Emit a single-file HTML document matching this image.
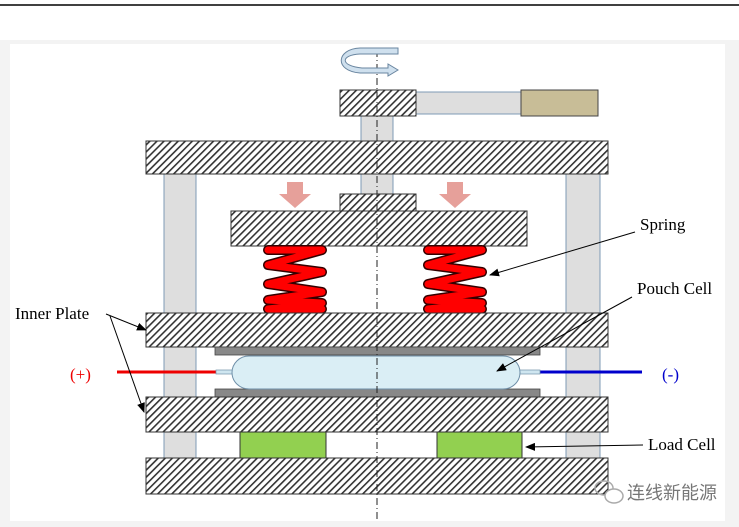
<!DOCTYPE html>
<html><head><meta charset="utf-8"><style>
html,body{margin:0;padding:0;background:#f0f0f0;}
svg{display:block;}
text{font-family:"Liberation Serif",serif;}
</style></head><body>
<svg width="739" height="527" viewBox="0 0 739 527" xmlns="http://www.w3.org/2000/svg">
<defs>
<pattern id="h" width="5" height="5" patternUnits="userSpaceOnUse" patternTransform="rotate(45)">
<rect width="5" height="5" fill="#fff"/><rect width="1.6" height="5" fill="#333"/>
</pattern>
<marker id="a" markerWidth="10" markerHeight="8" refX="9" refY="4" orient="auto" markerUnits="userSpaceOnUse">
<path d="M0,0 L10,4 L0,8 z" fill="#000"/></marker>
</defs>
<rect x="0" y="0" width="739" height="527" fill="#f3f3f3"/>
<rect x="0" y="0" width="739" height="40" fill="#fff"/>
<line x1="0" y1="5" x2="739" y2="5" stroke="#000" stroke-width="1.5"/>
<rect x="10" y="44" width="715" height="477" fill="#fff"/>

<rect x="164" y="174" width="32" height="284" fill="#dedede" stroke="#7f9bb5"/>
<rect x="566" y="174" width="34" height="284" fill="#dedede" stroke="#7f9bb5"/>
<rect x="361" y="116" width="32" height="79" fill="#dedede" stroke="#7f9bb5"/>
<rect x="416" y="92" width="105" height="22" fill="#dedede" stroke="#7f9bb5"/>
<rect x="521" y="90" width="77" height="26" fill="#c8bd97" stroke="#444"/>
<rect x="340" y="90" width="76" height="26" fill="url(#h)" stroke="#333"/>
<rect x="146" y="141" width="462" height="33" fill="url(#h)" stroke="#333"/>
<path d="M287,182 h16 v12 h8 l-16,14 l-16,-14 h8 z" fill="#e6a09a"/>
<path d="M447,182 h16 v12 h8 l-16,14 l-16,-14 h8 z" fill="#e6a09a"/>
<rect x="340" y="194" width="76" height="17" fill="url(#h)" stroke="#333"/>
<rect x="231" y="211" width="296" height="35" fill="url(#h)" stroke="#333"/>
<g stroke-linecap="round" fill="none">
<g id="sp">
<path d="M268,250 H322 L268,265 L322,272 L268,284 L322,292 L268,300 L322,303 L268,309 H322" stroke="#300" stroke-width="10" stroke-linejoin="round"/>
<path d="M268,250 H322 L268,265 L322,272 L268,284 L322,292 L268,300 L322,303 L268,309 H322" stroke="#f00" stroke-width="7" stroke-linejoin="round"/>
</g>
<use href="#sp" x="160"/>
</g>
<rect x="146" y="313" width="462" height="34" fill="url(#h)" stroke="#333"/>
<rect x="215" y="347" width="325" height="8" fill="#888" stroke="#444" stroke-width="0.8"/>
<rect x="215" y="389" width="325" height="8" fill="#888" stroke="#444" stroke-width="0.8"/>
<line x1="117" y1="372" x2="216" y2="372" stroke="#e00" stroke-width="3"/>
<line x1="540" y1="372" x2="642" y2="372" stroke="#00c" stroke-width="3"/>
<rect x="216" y="370" width="18" height="4" fill="#cfe6f0" stroke="#6f8fa8" stroke-width="0.7"/>
<rect x="518" y="370" width="22" height="4" fill="#cfe6f0" stroke="#6f8fa8" stroke-width="0.7"/>
<rect x="232" y="356" width="288" height="33" rx="17" fill="#daeef5" stroke="#6f8fa8"/>
<rect x="146" y="397" width="462" height="35" fill="url(#h)" stroke="#333"/>
<rect x="240" y="432" width="86" height="26" fill="#92d050" stroke="#333"/>
<rect x="437" y="432" width="85" height="26" fill="#92d050" stroke="#333"/>
<rect x="146" y="458" width="462" height="36" fill="url(#h)" stroke="#333"/>
<line x1="377" y1="50" x2="377" y2="520" stroke="#222" stroke-width="1" stroke-dasharray="7,3,1,3"/>
<path d="M398,54 L360,54 C340,55 340,66 362,68 L388,68 L388,64 L398,70 L388,76 L388,73 L360,73 C334,71 336,49 360,48 L398,48 z" fill="#cfe0ee" stroke="#6a86a0" stroke-width="1"/>
<g stroke="#000" stroke-width="1" fill="none">
<line x1="635" y1="232" x2="490" y2="275" marker-end="url(#a)"/>
<line x1="632" y1="297" x2="497" y2="371" marker-end="url(#a)"/>
<line x1="106" y1="314" x2="146" y2="330" marker-end="url(#a)"/>
<line x1="110" y1="316" x2="144" y2="412" marker-end="url(#a)"/>
<line x1="643" y1="445" x2="526" y2="447" marker-end="url(#a)"/>
</g>
<text x="640" y="230" font-size="17">Spring</text>
<text x="637" y="294" font-size="17">Pouch Cell</text>
<text x="15" y="319" font-size="17">Inner Plate</text>
<text x="648" y="450" font-size="17">Load Cell</text>
<text x="70" y="380" font-size="17" fill="#e00">(+)</text>
<text x="662" y="380" font-size="17" fill="#00c">(-)</text>
<g fill="none" stroke="#aaa" stroke-width="1.5">
<ellipse cx="604" cy="488" rx="9" ry="7"/>
<ellipse cx="614" cy="496" rx="9" ry="7" fill="#fff"/>
</g>
<text x="627" y="499" font-size="18" fill="#777" style="font-family:'Liberation Sans','Noto Sans CJK SC',sans-serif">连线新能源</text>
</svg>
</body></html>
